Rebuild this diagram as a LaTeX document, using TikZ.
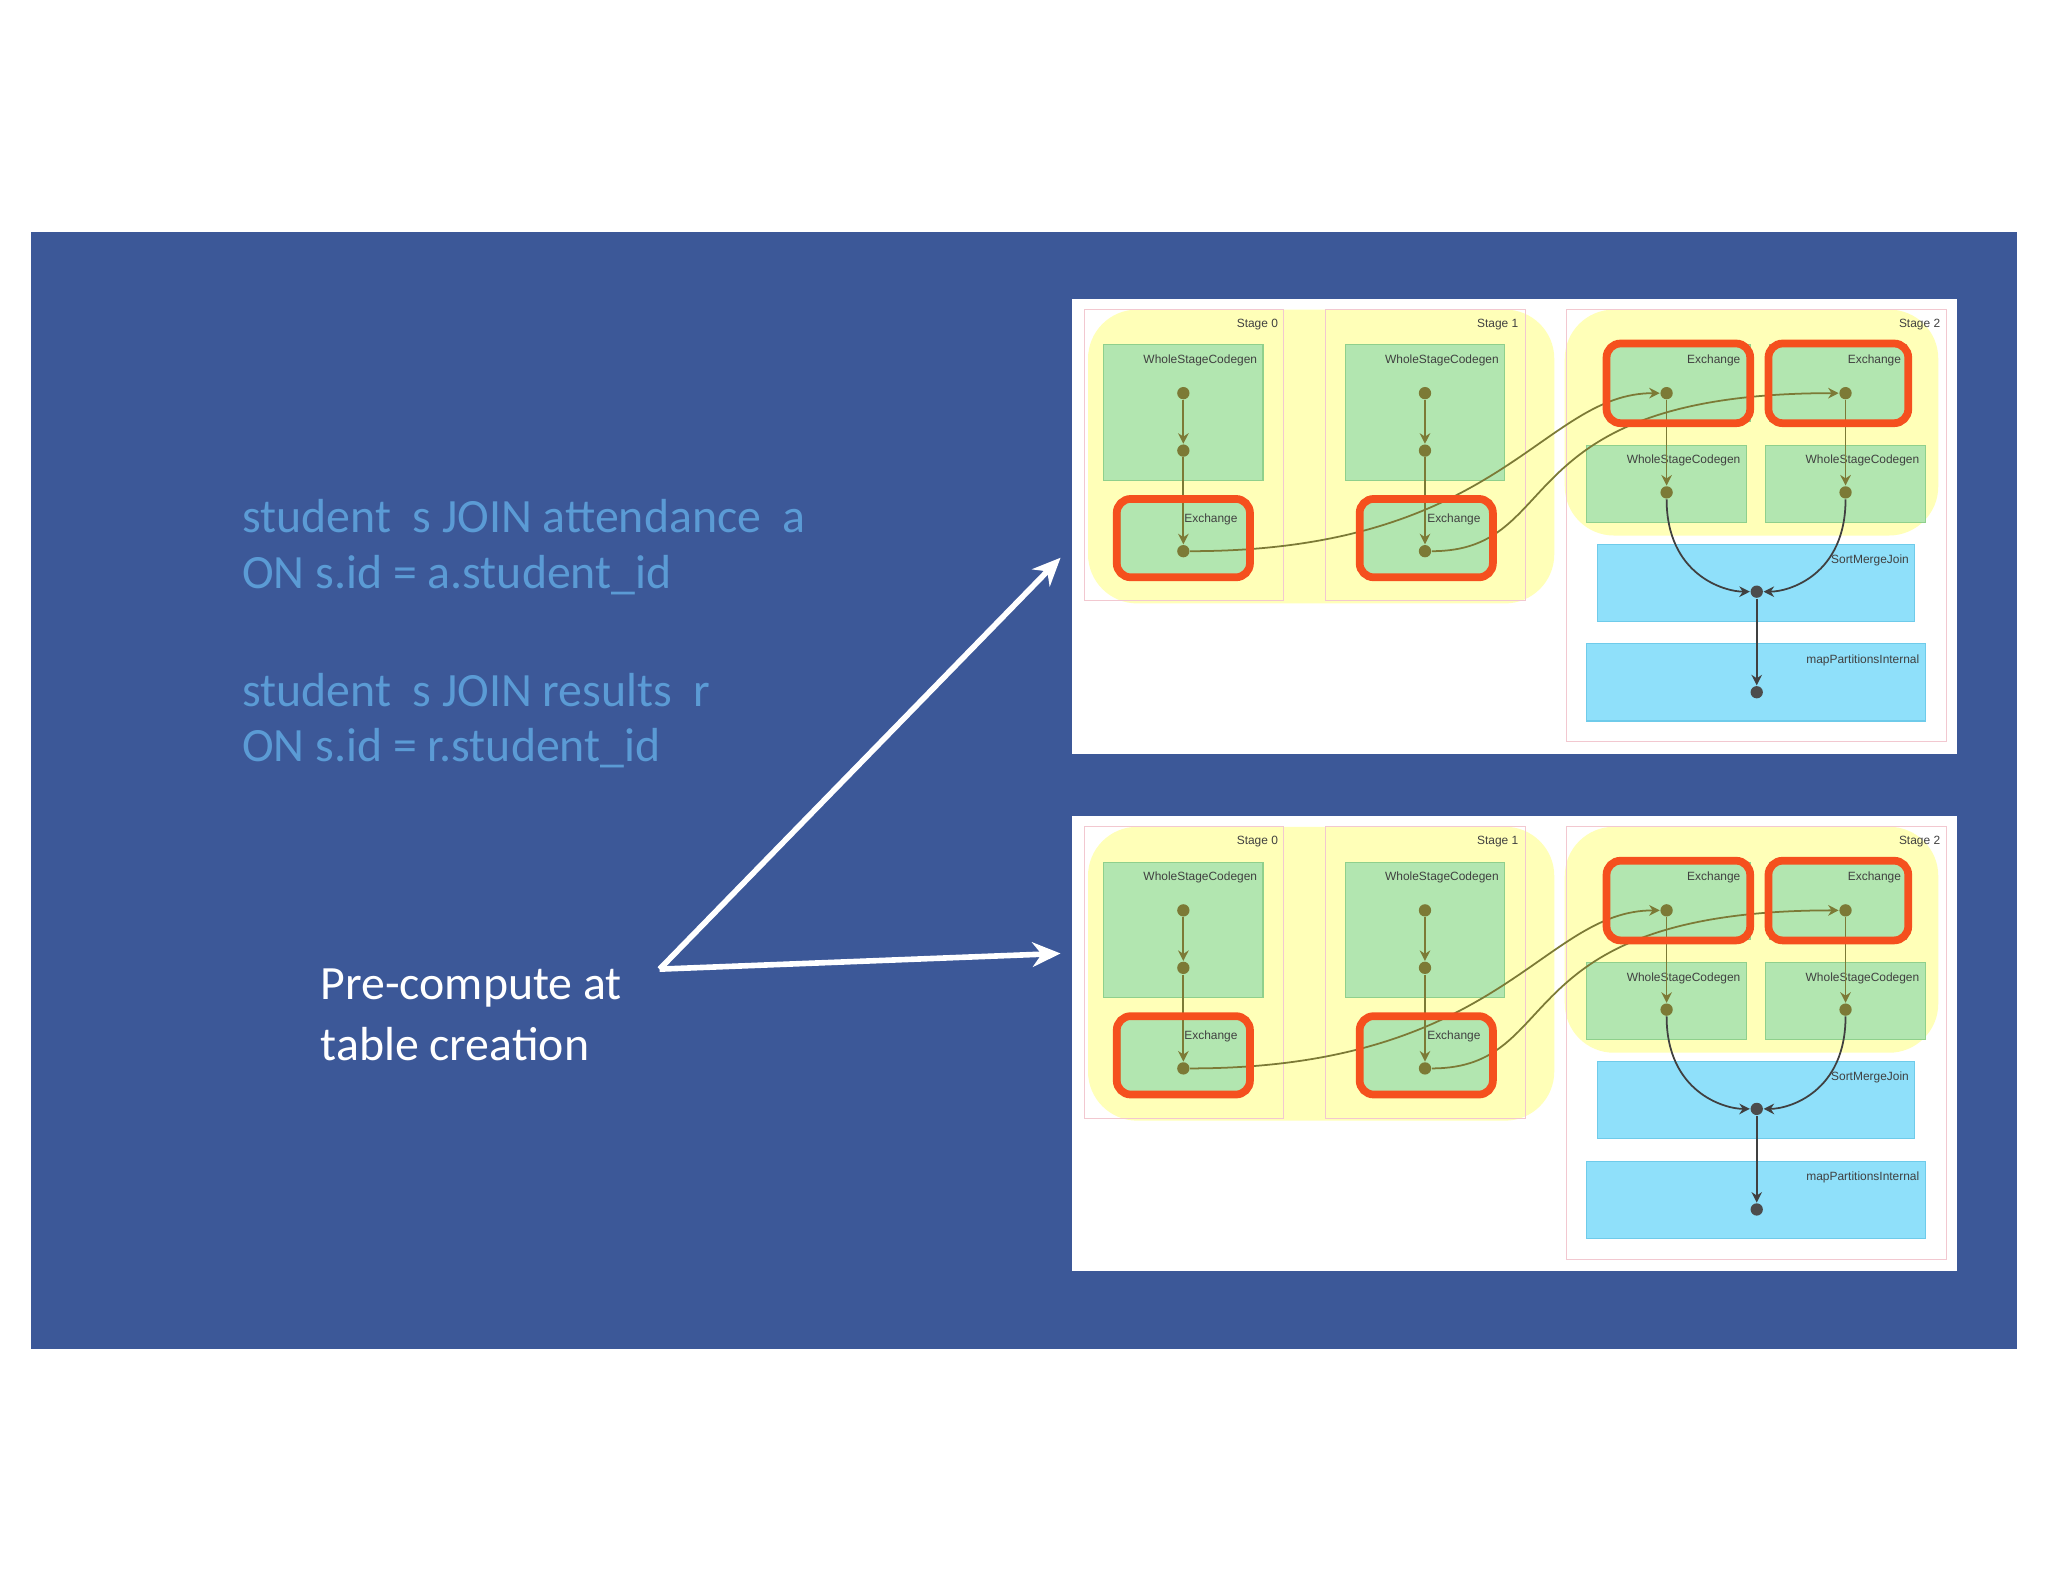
\documentclass[tikz,border=0pt]{standalone}
\usepackage{fontspec}
\setmainfont{Carlito}
\newfontfamily\uifont{Liberation Sans}
\definecolor{slideblue}{HTML}{3C5898}
\definecolor{sqlblue}{HTML}{5B9BD5}
\definecolor{stageyellow}{HTML}{FFFFB8}
\definecolor{stagepink}{HTML}{F2C8D0}
\definecolor{wscgreen}{HTML}{B2E6B0}
\definecolor{wscedge}{HTML}{8FD08C}
\definecolor{joincyan}{HTML}{8FE0FA}
\definecolor{joinedge}{HTML}{6FCBEA}
\definecolor{hilite}{HTML}{F5501E}
\definecolor{edgeolive}{HTML}{7C7A36}
\usetikzlibrary{arrows.meta,positioning}
\tikzset{
  stage/.style={draw=stagepink, line width=0.3pt},
  blob/.style={fill=stageyellow, rounded corners=14pt},
  wsc/.style={fill=wscgreen, draw=wscedge, line width=0.3pt},
  smj/.style={fill=joincyan, draw=joinedge, line width=0.3pt},
  marked/.style={draw=hilite, line width=2.2pt, rounded corners=4pt},
  tag/.style={font=\uifont\fontsize{3.4}{4}\selectfont, text=black!75, anchor=north east, inner sep=0pt},
  dot/.style={circle, fill=edgeolive, inner sep=0pt, minimum size=3.5pt},
  flow/.style={draw=edgeolive, line width=0.5pt, -{Stealth[length=3pt,width=3pt]}},
  sql/.style={font=\fontsize{13.6}{15}\selectfont, text=sqlblue, anchor=west, inner sep=0pt},
  callout/.style={draw=white, line width=1.6pt, -{Stealth[length=8pt,width=7pt]}}
}
% one query plan panel, #1 = vertical shift
\newcommand\planpanel[2]{%
  \begin{scope}[shift={(0,#1)}]
    \fill[white] (821,229) rectangle (1498,577);
    \fill[blob] (833,237) rectangle (1190,462);
    \fill[blob] (1198,237) rectangle (1484,410);
    \draw[stage] (830,237) rectangle (983,460);
    \draw[stage] (1015,237) rectangle (1168,460);
    \draw[stage] (1199,237) rectangle (1490,568);
    \node[tag] at (979,244) {Stage 0};
    \node[tag] at (1163,244) {Stage 1};
    \node[tag] at (1486,244) {Stage 2};
    \draw[wsc] (845,264) rectangle (967,368);
    \draw[wsc] (858,384) rectangle (955,440);
    \draw[wsc] (1030,264) rectangle (1152,368);
    \draw[wsc] (1043,384) rectangle (1141,440);
    \draw[wsc] (1232,264) rectangle (1340,323);
    \draw[wsc] (1355,264) rectangle (1460,323);
    \draw[wsc] (1215,341) rectangle (1337,400);
    \draw[wsc] (1352,341) rectangle (1474,400);
    \draw[smj] (1223,417) rectangle (1466,476);
    \draw[smj] (1215,493) rectangle (1474,552);
    \node[tag] at (963,271) {WholeStageCodegen};
    \node[tag] at (948,393) {Exchange};
    \node[tag] at (1148,271) {WholeStageCodegen};
    \node[tag] at (1134,393) {Exchange};
    \node[tag] at (1333,271) {Exchange};
    \node[tag] at (1456,271) {Exchange};
    \node[tag] at (1333,348) {WholeStageCodegen};
    \node[tag] at (1470,348) {WholeStageCodegen};
    \node[tag] at (1462,424) {SortMergeJoin};
    \node[tag] at (1470,501) {mapPartitionsInternal};
    \node[dot] (#2a1) at (906,301) {};
    \node[dot] (#2a2) at (906,345) {};
    \node[dot] (#2a3) at (906,422) {};
    \node[dot] (#2b1) at (1091,301) {};
    \node[dot] (#2b2) at (1091,345) {};
    \node[dot] (#2b3) at (1091,422) {};
    \node[dot] (#2c1) at (1276,301) {};
    \node[dot] (#2c2) at (1276,377) {};
    \node[dot] (#2d1) at (1413,301) {};
    \node[dot] (#2d2) at (1413,377) {};
    \node[dot, fill=black!70] (#2j) at (1345,453) {};
    \node[dot, fill=black!70] (#2m) at (1345,530) {};
    \draw[flow] (#2a1) -- (#2a2);
    \draw[flow] (#2a2) -- (#2a3);
    \draw[flow] (#2b1) -- (#2b2);
    \draw[flow] (#2b2) -- (#2b3);
    \draw[flow] (#2a3) .. controls (1150,422) and (1180,301) .. (#2c1);
    \draw[flow] (#2b3) .. controls (1200,422) and (1150,301) .. (#2d1);
    \draw[flow] (#2c1) -- (#2c2);
    \draw[flow] (#2d1) -- (#2d2);
    \draw[flow, draw=black!75] (#2c2) .. controls (1276,440) and (1320,453) .. (#2j);
    \draw[flow, draw=black!75] (#2d2) .. controls (1413,440) and (1370,453) .. (#2j);
    \draw[flow, draw=black!75] (#2j) -- (#2m);
    \draw[marked] (855,382) rectangle (957,442);
    \draw[marked] (1041,382) rectangle (1143,442);
    \draw[marked] (1230,263) rectangle (1340,324);
    \draw[marked] (1354,263) rectangle (1461,324);
  \end{scope}}
\begin{document}
\begin{tikzpicture}[x=0.013061cm, y=-0.013061cm]
  \useasboundingbox (0,0) rectangle (1568,1211);
  \fill[slideblue] (24,178) rectangle (1544,1033);

  % query text
  \node[sql] (q1) at (185,395) {student\ \ s JOIN attendance\ \ a};
  \node[sql] (q2) at (185,440) {ON s.id = a.student\_id};
  \node[sql] (q3) at (185,528) {student\ \ s JOIN results\ \ r};
  \node[sql] (q4) at (185,573) {ON s.id = r.student\_id};

  % the two plans
  \planpanel{0}{u}
  \planpanel{396}{l}

  % callout
  \node[font=\fontsize{13.6}{17.5}\selectfont, text=white, align=left, anchor=west, inner sep=0pt]
    (note) at (245,777) {Pre-compute at\\table creation};
  \coordinate (hub) at (505,742);
  \coordinate (topend) at (812,427);
  \coordinate (lowend) at (812,730);
  \draw[callout] (hub) -- (topend);
  \draw[callout] (hub) -- (lowend);
\end{tikzpicture}
\end{document}
